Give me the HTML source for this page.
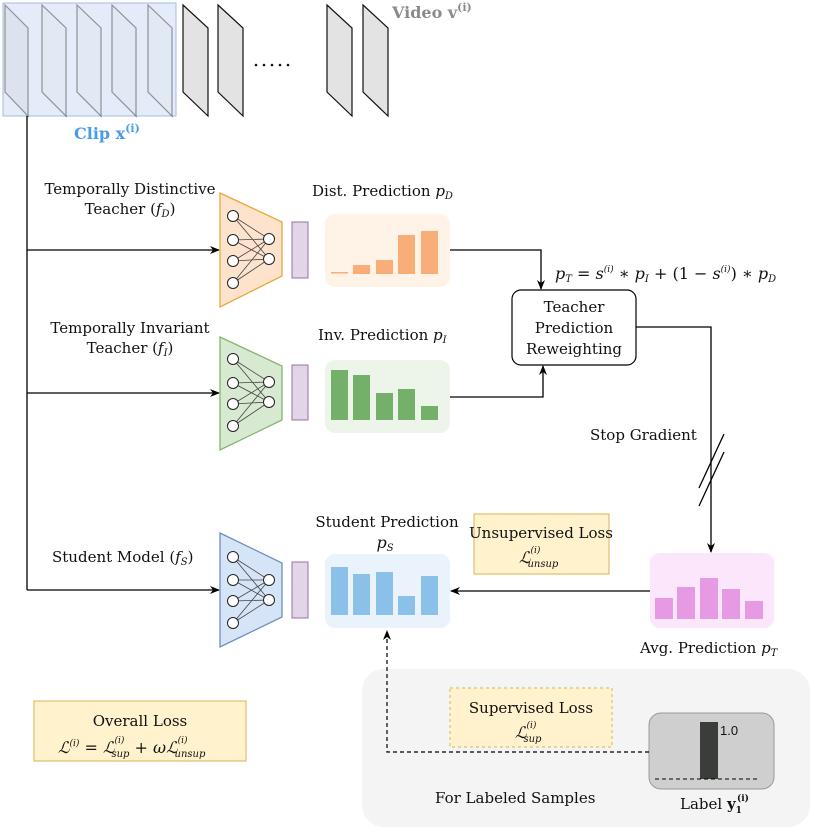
<!DOCTYPE html>
<html><head><style>
body{margin:0;background:#fff}
svg text{font-family:"DejaVu Serif","Liberation Serif",serif;fill:#111}
.i{font-style:italic}
</style></head><body>
<svg width="815" height="831" viewBox="0 0 815 831" xmlns="http://www.w3.org/2000/svg">
<defs>
<marker id="a" markerWidth="10" markerHeight="10" refX="9" refY="5" orient="auto" markerUnits="userSpaceOnUse"><path d="M0,1 L10,5 L0,9 L3,5 Z" fill="#000"/></marker>
</defs>
<rect x="3" y="3" width="173" height="113" fill="#dde8f7" stroke="#9fb9e0" stroke-width="1" opacity="0.9"/>
<g stroke="#444" stroke-width="1.2" fill="#d2d9e4">
<path d="M5,5 L28,28 L28,116 L5,92 Z"/>
<path d="M42,5 L66,28 L66,116 L42,92 Z" fill="#dce4f0"/>
<path d="M77,5 L101,28 L101,116 L77,92 Z" fill="#dce4f0"/>
<path d="M112,5 L136,28 L136,116 L112,92 Z" fill="#dce4f0"/>
<path d="M148,5 L172,28 L172,116 L148,92 Z" fill="#dce4f0"/>
</g>
<rect x="3" y="3" width="173" height="113" fill="#e8f0fb" opacity="0.45" stroke="#9fb9e0"/>
<g stroke="#111" stroke-width="1.2" fill="#e3e3e3">
<path d="M183,5 L208,28 L208,116 L183,92 Z"/>
<path d="M218,5 L243,28 L243,116 L218,92 Z"/>
<path d="M327,5 L352,28 L352,116 L327,92 Z"/>
<path d="M363,5 L388,28 L388,116 L363,92 Z"/>
</g>
<g fill="#111"><circle cx="256" cy="65" r="1.3"/><circle cx="264" cy="65" r="1.3"/><circle cx="272" cy="65" r="1.3"/><circle cx="280" cy="65" r="1.3"/><circle cx="288" cy="65" r="1.3"/></g>
<text x="392" y="18" font-size="16" font-weight="bold" style="fill:#8a8a8a">Video v<tspan dy="-7" font-size="11">(i)</tspan></text>
<text x="74" y="139" font-size="16" font-weight="bold" style="fill:#4a9be8">Clip x<tspan dy="-7" font-size="11">(i)</tspan></text>

<path d="M27,116 V590" stroke="#000" stroke-width="1.3" fill="none"/>
<path d="M27,250 H219" stroke="#000" stroke-width="1.3" marker-end="url(#a)"/>
<path d="M27,393 H219" stroke="#000" stroke-width="1.3" marker-end="url(#a)"/>
<path d="M27,590 H219" stroke="#000" stroke-width="1.3" marker-end="url(#a)"/>

<text x="130" y="194" font-size="15" text-anchor="middle">Temporally Distinctive</text>
<text x="130" y="214" font-size="15" text-anchor="middle">Teacher (<tspan class="i">f</tspan><tspan class="i" font-size="10" dy="3">D</tspan><tspan dy="-3">)</tspan></text>
<text x="130" y="333" font-size="15" text-anchor="middle">Temporally Invariant</text>
<text x="130" y="353" font-size="15" text-anchor="middle">Teacher (<tspan class="i">f</tspan><tspan class="i" font-size="10" dy="3">I</tspan><tspan dy="-3">)</tspan></text>
<text x="52" y="562" font-size="15">Student Model (<tspan class="i">f</tspan><tspan class="i" font-size="10" dy="3">S</tspan><tspan dy="-3">)</tspan></text>

<path d="M220,193 L282,222 L282,276 L220,307 Z" fill="#fde3cc" stroke="#e6a93c" stroke-width="1.3"/>
<path d="M220,337 L282,366 L282,420 L220,450 Z" fill="#d7e9d1" stroke="#86b56e" stroke-width="1.3"/>
<path d="M220,533 L282,563 L282,617 L220,647 Z" fill="#d6e4f8" stroke="#6c8ebf" stroke-width="1.3"/>
<g stroke="#444" stroke-width="0.8" fill="none">
<path d="M233,216 L269,239 M233,216 L269,259 M233,240 L269,239 M233,240 L269,259 M233,261 L269,239 M233,261 L269,259 M233,283 L269,239 M233,283 L269,259"/>
<path d="M233,359 L269,382 M233,359 L269,402 M233,383 L269,382 M233,383 L269,402 M233,404 L269,382 M233,404 L269,402 M233,426 L269,382 M233,426 L269,402"/>
<path d="M233,557 L269,580 M233,557 L269,600 M233,580 L269,580 M233,580 L269,600 M233,601 L269,580 M233,601 L269,600 M233,623 L269,580 M233,623 L269,600"/>
</g>
<g fill="#fff" stroke="#222" stroke-width="1">
<circle cx="233" cy="216" r="5.5"/><circle cx="233" cy="240" r="5.5"/><circle cx="233" cy="261" r="5.5"/><circle cx="233" cy="283" r="5.5"/><circle cx="269" cy="239" r="5.5"/><circle cx="269" cy="259" r="5.5"/>
<circle cx="233" cy="359" r="5.5"/><circle cx="233" cy="383" r="5.5"/><circle cx="233" cy="404" r="5.5"/><circle cx="233" cy="426" r="5.5"/><circle cx="269" cy="382" r="5.5"/><circle cx="269" cy="402" r="5.5"/>
<circle cx="233" cy="557" r="5.5"/><circle cx="233" cy="580" r="5.5"/><circle cx="233" cy="601" r="5.5"/><circle cx="233" cy="623" r="5.5"/><circle cx="269" cy="580" r="5.5"/><circle cx="269" cy="600" r="5.5"/>
</g>
<g fill="#e1d5e7" stroke="#9673a6" stroke-width="1">
<rect x="292" y="222" width="16" height="56"/>
<rect x="292" y="365" width="16" height="55"/>
<rect x="292" y="562" width="16" height="56"/>
</g>

<rect x="325" y="214" width="125" height="73" rx="10" fill="#fff3e8"/>
<g fill="#f9ad78"><rect x="331" y="272" width="17" height="1.5"/><rect x="353" y="265" width="17" height="9"/><rect x="376" y="260" width="17" height="14"/><rect x="398" y="235" width="17" height="39"/><rect x="421" y="231" width="17" height="43"/></g>
<text x="312" y="196" font-size="15">Dist. Prediction <tspan class="i">p</tspan><tspan class="i" font-size="10" dy="3">D</tspan></text>

<rect x="325" y="360" width="125" height="73" rx="10" fill="#edf5ea"/>
<g fill="#75b06a"><rect x="331" y="370" width="17" height="50"/><rect x="353" y="375" width="17" height="45"/><rect x="376" y="393" width="17" height="27"/><rect x="398" y="389" width="17" height="31"/><rect x="421" y="406" width="17" height="14"/></g>
<text x="318" y="340" font-size="15">Inv. Prediction <tspan class="i">p</tspan><tspan class="i" font-size="10" dy="3">I</tspan></text>

<rect x="325" y="554" width="125" height="74" rx="10" fill="#eaf3fc"/>
<g fill="#8bc1e8"><rect x="331" y="567" width="17" height="48"/><rect x="353" y="574" width="17" height="41"/><rect x="376" y="572" width="17" height="43"/><rect x="398" y="596" width="17" height="19"/><rect x="421" y="576" width="17" height="39"/></g>
<text x="387" y="527" font-size="15" text-anchor="middle">Student Prediction</text>
<text x="385" y="548" font-size="16" class="i" text-anchor="middle">p<tspan font-size="10" dy="3">S</tspan></text>

<rect x="650" y="553" width="124" height="75" rx="10" fill="#fce6fc"/>
<g fill="#e69ae3"><rect x="655" y="598" width="18" height="21"/><rect x="677" y="587" width="18" height="32"/><rect x="700" y="578" width="18" height="41"/><rect x="722" y="589" width="18" height="30"/><rect x="745" y="601" width="18" height="18"/></g>
<text x="640" y="653" font-size="15">Avg. Prediction <tspan class="i">p</tspan><tspan class="i" font-size="10" dy="3">T</tspan></text>

<rect x="512" y="290" width="124" height="75" rx="9" fill="#fff" stroke="#000" stroke-width="1.2"/>
<text x="574" y="312" font-size="15" text-anchor="middle">Teacher</text>
<text x="574" y="333" font-size="15" text-anchor="middle">Prediction</text>
<text x="574" y="354" font-size="15" text-anchor="middle">Reweighting</text>
<text x="555" y="279" font-size="16" class="i">p<tspan font-size="10" dy="3">T</tspan><tspan dy="-3" font-style="normal"> = </tspan>s<tspan font-size="9" dy="-7">(i)</tspan><tspan dy="7" font-style="normal"> ∗ </tspan>p<tspan font-size="10" dy="3">I</tspan><tspan dy="-3" font-style="normal"> + (1 − </tspan>s<tspan font-size="9" dy="-7">(i)</tspan><tspan dy="7" font-style="normal">) ∗ </tspan>p<tspan font-size="10" dy="3">D</tspan></text>

<g stroke="#000" stroke-width="1.3" fill="none">
<path d="M450,250 H541 V289" marker-end="url(#a)"/>
<path d="M450,397 H543 V366" marker-end="url(#a)"/>
<path d="M636,327 H711 V552" marker-end="url(#a)"/>
<path d="M650,591 H451" marker-end="url(#a)"/>
<path d="M699,488 L724,434 M699,506 L724,452"/>
</g>
<text x="590" y="440" font-size="15">Stop Gradient</text>

<rect x="474" y="514" width="135" height="60" fill="#fff2cc" stroke="#d6b656"/>
<text x="541" y="538" font-size="15" text-anchor="middle">Unsupervised Loss</text>
<text x="519" y="563" font-size="16" class="i">ℒ<tspan font-size="9" dy="-10">(i)</tspan><tspan font-size="10" dy="14" dx="-13">unsup</tspan></text>

<rect x="362" y="669" width="448" height="158" rx="22" fill="#f4f4f4"/>
<rect x="450" y="688" width="162" height="59" fill="#fff2cc" stroke="#d6b656" stroke-dasharray="3,3"/>
<text x="531" y="713" font-size="15" text-anchor="middle">Supervised Loss</text>
<text x="515" y="738" font-size="16" class="i">ℒ<tspan font-size="9" dy="-10">(i)</tspan><tspan font-size="10" dy="14" dx="-13">sup</tspan></text>
<rect x="649" y="713" width="125" height="76" rx="12" fill="#cfcfcf" stroke="#999"/>
<rect x="700" y="722" width="18" height="57" fill="#3a3d3a"/>
<path d="M655,779 H757" stroke="#000" stroke-dasharray="4,3"/>
<text x="720" y="735" font-size="13" style="font-family:'Liberation Sans',sans-serif">1.0</text>
<path d="M649,752 H387 V631" stroke="#000" stroke-width="1.2" stroke-dasharray="4,3" fill="none" marker-end="url(#a)"/>
<text x="435" y="803" font-size="15">For Labeled Samples</text>
<text x="680" y="809" font-size="15">Label <tspan font-weight="bold">y</tspan><tspan font-size="9" dy="4" font-weight="bold">1</tspan><tspan font-size="9" dy="-12" dx="-5" font-weight="bold">(i)</tspan></text>

<rect x="34" y="701" width="212" height="60" fill="#fff2cc" stroke="#d6b656"/>
<text x="140" y="726" font-size="15" text-anchor="middle">Overall Loss</text>
<text x="58" y="753" font-size="16" class="i">ℒ<tspan font-size="9" dy="-7">(i)</tspan><tspan dy="7" font-style="normal"> = </tspan>ℒ<tspan font-size="9" dy="-10">(i)</tspan><tspan font-size="10" dy="14" dx="-13">sup</tspan><tspan dy="-4" font-style="normal"> + </tspan>ωℒ<tspan font-size="9" dy="-10">(i)</tspan><tspan font-size="10" dy="14" dx="-13">unsup</tspan></text>
</svg>
</body></html>
